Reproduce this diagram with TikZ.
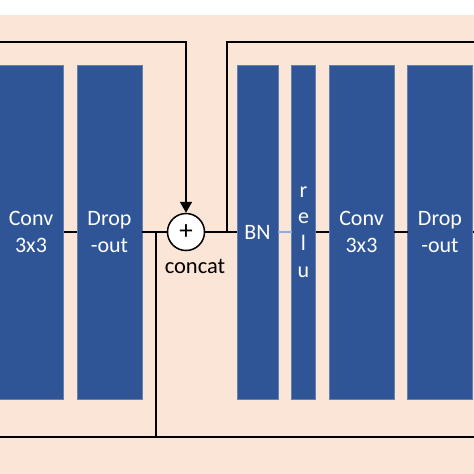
\documentclass[tikz,border=0pt]{standalone}
\usepackage{fontspec}
\setmainfont{Carlito}
\usepackage{tikz}
\usetikzlibrary{arrows.meta}
\usetikzlibrary{positioning}
\definecolor{peach}{HTML}{FBE5D6}
\definecolor{layerblue}{HTML}{2F5597}
\definecolor{linkblue}{HTML}{8FAADC}

\begin{document}
\begin{tikzpicture}[x=1pt,y=-1pt,line width=1.8pt,node distance=13.5pt,
  layer/.style={rectangle,fill=layerblue,draw=layerblue!75!white,line width=0.6pt,text=white,
    minimum height=334pt,inner sep=0pt,outer sep=0pt,align=center,
    font=\fontsize{22}{26.7}\selectfont},
  adder/.style={circle,draw,fill=white,line width=1.5pt,minimum size=37pt,inner sep=0pt,
    font=\fontsize{27}{30}\selectfont}]
  \useasboundingbox (0,0) rectangle (474,474);
  \fill[white] (0,0) rectangle (474,15);
  \fill[peach] (0,15) rectangle (474,474);

  \node[layer,minimum width=65pt]	(conv1)	at (31,232)	{Conv\\3x3};
  \node[layer,minimum width=65pt]	(drop1)	[right=of conv1]	{Drop\\-out};
  \node[adder]	(plus)	at (186,232)	{+};
  \node[font=\fontsize{22.5}{26}\selectfont]	(catlbl)	at (195,266)	{concat};
  \node[layer,minimum width=41pt]	(bn)	at (257.5,232)	{BN};
  \node[layer,minimum width=24pt]	(relu)	[right=of bn]	{r\\e\\l\\u};
  \node[layer,minimum width=65pt]	(conv2)	[right=of relu]	{Conv\\3x3};
  \node[layer,minimum width=65pt]	(drop2)	[right=of conv2]	{Drop\\-out};

  \coordinate (skipin)	at (0,42);
  \coordinate (skipout)	at (474,42);
  \coordinate (fork)	at (227,232);
  \coordinate (fork2)	at (156,232);
  \coordinate (bypassin)	at (0,437);
  \coordinate (bypassout)	at (474,437);
  \coordinate (out)	at (474,232);

  \draw (conv1) -- (drop1);
  \draw (drop1) -- (plus);
  \draw (plus) -- (bn);
  \draw[linkblue] (bn) -- (relu);
  \draw (relu) -- (conv2);
  \draw (conv2) -- (drop2);
  \draw (drop2) -- (out);
  \draw[-{Triangle[length=11pt,width=12pt]}] (skipin) -| (plus);
  \draw (fork) |- (skipout);
  \draw (bypassin) -- (bypassout);
  \draw (fork2) -- (fork2 |- bypassin);
\end{tikzpicture}
\end{document}
